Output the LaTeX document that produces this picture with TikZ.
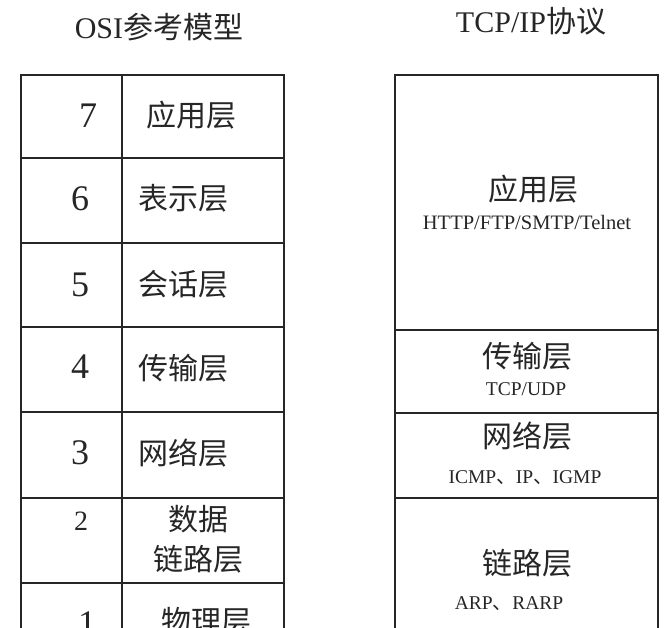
\documentclass[tikz,border=0pt]{standalone}
\usepackage{fontspec}
\setmainfont{Liberation Serif}
\newfontfamily\cjk{Noto Sans CJK SC}
\usepackage{tikz}
\usetikzlibrary{positioning}
\tikzstyle{cell}=[rectangle,draw=black!85,line width=1.6pt,inner sep=0pt]
\tikzstyle{num}=[inner sep=0pt,font=\fontsize{36}{36}\selectfont]
\tikzstyle{lname}=[inner sep=0pt,align=center,font=\fontsize{30}{36}\selectfont\cjk]
\tikzstyle{proto}=[inner sep=0pt,font=\fontsize{19.5}{22}\selectfont]
\tikzstyle{heading}=[inner sep=0pt,font=\fontsize{30}{30}\selectfont]

\begin{document}
\begin{tikzpicture}[x=1pt,y=-1pt,text=black!85]
                \useasboundingbox (0,0) rectangle (664,628);
                \clip (0,0) rectangle (664,628);

                \node[heading] (osi) at (159,27) {OSI{\cjk 参考模型}};
                \node[heading] (tcpip) at (531,21) {TCP/IP{\cjk 协议}};

                % OSI
                \node[cell,minimum width=101pt,minimum height=83pt] (o7) at (71.5,116.5) {};
                \node[cell,minimum width=162pt,minimum height=83pt] (l7) at (203,116.5) {};
                \node[cell,minimum width=101pt,minimum height=85pt] (o6) at (71.5,200.5) {};
                \node[cell,minimum width=162pt,minimum height=85pt] (l6) at (203,200.5) {};
                \node[cell,minimum width=101pt,minimum height=84pt] (o5) at (71.5,285) {};
                \node[cell,minimum width=162pt,minimum height=84pt] (l5) at (203,285) {};
                \node[cell,minimum width=101pt,minimum height=85pt] (o4) at (71.5,369.5) {};
                \node[cell,minimum width=162pt,minimum height=85pt] (l4) at (203,369.5) {};
                \node[cell,minimum width=101pt,minimum height=86pt] (o3) at (71.5,455) {};
                \node[cell,minimum width=162pt,minimum height=86pt] (l3) at (203,455) {};
                \node[cell,minimum width=101pt,minimum height=85pt] (o2) at (71.5,540.5) {};
                \node[cell,minimum width=162pt,minimum height=85pt] (l2) at (203,540.5) {};
                \node[cell,minimum width=101pt,minimum height=85pt] (o1) at (71.5,625.5) {};
                \node[cell,minimum width=162pt,minimum height=85pt] (l1) at (203,625.5) {};

                \node[num] (n7) at (88,116) {7};
                \node[num] (n6) at (80,199) {6};
                \node[num] (n5) at (80,285) {5};
                \node[num] (n4) at (80,367) {4};
                \node[num] (n3) at (80,453) {3};
                \node[num,font=\fontsize{28}{28}\selectfont] (n2) at (81,521) {2};
                \node[num] (n1) at (87,624) {1};

                \node[lname] (app) at (191,115) {应用层};
                \node[lname] (pres) at (183,198) {表示层};
                \node[lname] (sess) at (183,284) {会话层};
                \node[lname] (trans) at (183,368) {传输层};
                \node[lname] (net) at (183,453) {网络层};
                \node[lname] (data) at (198,519) {数据};
                \node[lname] (link) at (198,559) {链路层};
                \node[lname] (phys) at (206,621) {物理层};

                % TCP/IP
                \node[cell,minimum width=263pt,minimum height=255pt] (tapp) at (526.5,202.5) {};
                \node[cell,minimum width=263pt,minimum height=83pt] (ttrans) at (526.5,371.5) {};
                \node[cell,minimum width=263pt,minimum height=85pt] (tnet) at (526.5,455.5) {};
                \node[cell,minimum width=263pt,minimum height=170pt] (tlink) at (526.5,583) {};

                \node[lname] (tappname) at (533,189) {应用层};
                \node[proto,font=\fontsize{20.5}{22}\selectfont] (tappproto) at (527,222) {HTTP/FTP/SMTP/Telnet};
                \node[lname] (ttransname) at (527,356) {传输层};
                \node[proto] (ttransproto) at (526,389) {TCP/UDP};
                \node[lname] (tnetname) at (527,436) {网络层};
                \node[proto] (tnetproto) at (525,478) {ICMP{\cjk 、}IP{\cjk 、}IGMP};
                \node[lname] (tlinkname) at (527,563) {链路层};
                \node[proto] (tlinkproto) at (509,604) {ARP{\cjk 、}RARP};
\end{tikzpicture}
\end{document}
